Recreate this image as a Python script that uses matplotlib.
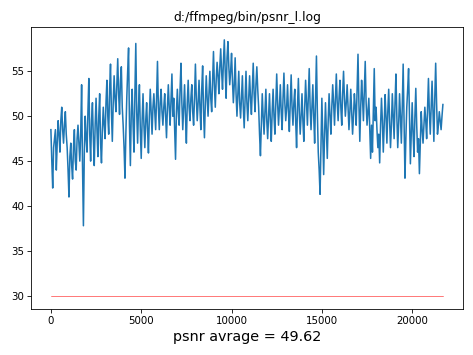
import matplotlib
matplotlib.use("Agg")
import matplotlib.pyplot as plt

# psnr per frame: values at every 100th frame ...
frame_step = 100
psnr = [
    48.5, 42.0, 47.5, 44.0, 49.5, 46.0, 51.0, 47.0, 50.5, 46.5,
    41.0, 47.0, 43.0, 48.5, 44.0, 49.0, 45.0, 53.5, 37.8, 50.0,
    46.0, 54.2, 45.0, 51.5, 44.5, 52.0, 45.5, 52.5, 44.8, 51.0,
    47.5, 54.0, 48.0, 55.8, 47.2, 54.5, 50.5, 56.4, 50.2, 55.5,
    49.0, 43.1, 52.0, 57.6, 44.5, 53.0, 46.0, 58.1, 47.0, 53.5,
    45.3, 52.5, 46.5, 51.5, 45.9, 53.0, 48.0, 52.5, 48.5, 56.1,
    48.5, 53.0, 49.0, 52.5, 47.6, 53.5, 49.0, 54.7, 52.0, 45.2,
    53.0, 49.0, 55.9, 48.5, 53.5, 47.0, 54.0, 49.5, 53.5, 49.0,
    55.8, 49.5, 54.0, 48.5, 55.6, 47.6, 54.5, 50.0, 55.0, 50.5,
    57.2, 51.0, 56.0, 52.5, 57.5, 53.0, 58.5, 52.0, 58.3, 53.5,
    57.0, 51.5, 56.5, 50.0, 55.0, 49.8, 54.5, 48.7, 55.0, 49.5,
    54.5, 50.2, 55.9, 50.5, 55.5, 51.0, 45.6, 52.5, 48.0, 53.0,
    47.5, 52.5, 47.2, 53.0, 48.0, 54.7, 49.0, 53.5, 48.5, 54.8,
    49.5, 53.5, 48.3, 54.6, 49.0, 53.0, 46.5, 54.2, 48.0, 52.5,
    47.2, 54.0, 49.0, 55.3, 48.5, 53.5, 47.0, 56.7, 46.0, 41.3,
    52.0, 43.5, 51.5, 45.3, 52.5, 48.0, 53.5, 49.0, 54.7, 49.5,
    54.0, 49.0, 55.0, 50.0, 53.5, 48.5, 53.0, 48.0, 52.5, 49.0,
    56.9, 47.2, 54.0, 49.5, 56.1, 49.0, 52.0, 45.3, 46.0, 55.3,
    51.0, 46.5, 44.8, 52.0, 46.0, 52.4, 47.0, 53.0, 46.5, 52.5,
    47.5, 54.7, 46.5, 52.5, 47.0, 55.8, 43.1, 51.0, 55.3, 44.7,
    51.5, 45.5, 53.1, 46.0, 43.6, 50.5, 47.0, 51.0, 47.5, 54.2,
    48.0, 53.9, 47.2, 55.9, 48.0, 50.5, 48.5, 51.3,
]
# ... and the frames halfway between them
psnr_mid = [
    45.0, 46.5, 48.5, 47.0, 48.0, 49.5, 48.5, 49.0, 48.0, 44.0,
    45.5, 44.5, 46.5, 45.0, 47.5, 47.0, 48.0, 44.5, 46.0, 47.5,
    50.5, 48.0, 49.5, 47.5, 49.0, 48.5, 50.0, 47.0, 48.5, 49.0,
    51.5, 50.0, 53.0, 50.5, 51.5, 52.0, 53.5, 52.5, 54.0, 51.0,
    46.5, 48.0, 55.0, 49.0, 50.5, 49.0, 52.5, 50.5, 51.0, 48.5,
    49.5, 49.0, 49.5, 48.5, 50.0, 50.5, 51.0, 50.5, 52.0, 51.0,
    51.5, 50.5, 51.0, 50.0, 51.0, 51.0, 52.0, 50.0, 48.5, 50.5,
    50.5, 53.0, 51.5, 51.0, 50.0, 51.5, 51.0, 52.0, 50.5, 52.0,
    52.0, 51.5, 51.0, 53.0, 50.5, 51.5, 52.0, 52.5, 52.0, 54.0,
    53.5, 54.0, 54.5, 55.5, 55.0, 56.0, 55.0, 56.5, 55.5, 55.0,
    54.0, 53.5, 52.5, 52.5, 51.5, 52.0, 51.0, 52.0, 51.5, 52.0,
    52.0, 53.0, 52.5, 53.5, 53.0, 48.0, 49.0, 50.0, 50.5, 49.5,
    50.0, 49.5, 50.5, 50.0, 51.5, 51.5, 51.0, 50.5, 52.0, 51.5,
    51.0, 50.5, 51.5, 51.0, 51.5, 49.5, 51.0, 50.5, 50.0, 49.5,
    51.0, 51.5, 52.0, 51.0, 51.0, 50.0, 52.0, 50.5, 44.0, 47.0,
    47.5, 48.0, 48.5, 49.5, 50.0, 51.0, 51.5, 52.0, 51.5, 52.0,
    51.0, 52.5, 52.0, 51.5, 51.0, 50.5, 50.5, 50.0, 51.0, 53.0,
    51.5, 51.0, 52.0, 53.0, 51.5, 50.5, 48.5, 49.0, 50.5, 49.5,
    48.5, 48.0, 49.0, 49.5, 49.0, 50.0, 50.5, 49.5, 49.0, 50.0,
    51.5, 50.0, 49.0, 50.0, 51.0, 49.5, 47.5, 53.0, 50.0, 48.0,
    48.0, 50.0, 49.0, 47.5, 47.0, 48.5, 49.0, 49.5, 51.0, 50.5,
    51.0, 50.5, 52.0, 51.5, 49.0, 49.5, 50.0,
]
threshold = 30
avg = 49.62

frames, values = [], []
for i, v in enumerate(psnr):
    frames.append(i * frame_step)
    values.append(v)
    if i < len(psnr_mid):
        frames.append(i * frame_step + frame_step // 2)
        values.append(psnr_mid[i])

fig, ax = plt.subplots(figsize=(6.4, 4.8), dpi=74)
ax.plot(frames, values, color='#1f77b4', linewidth=1.5)
ax.plot(frames, [threshold] * len(frames), color='red', linewidth=0.5)
ax.set_title('d:/ffmpeg/bin/psnr_l.log')
ax.set_xlabel('psnr avrage = %.2f' % avg, fontsize=14)

plt.tight_layout()
plt.savefig('out.png', dpi=74)
